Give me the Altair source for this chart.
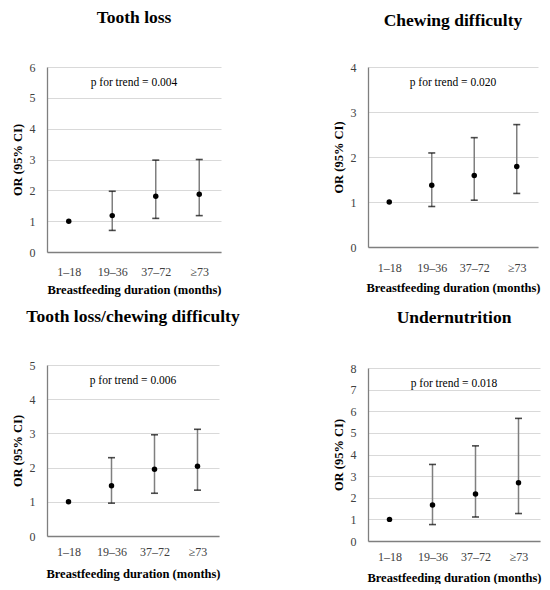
import altair as alt
import pandas as pd

categories = ["1–18", "19–36", "37–72", "≥73"]

titles = ["Tooth loss", "Chewing difficulty", "Tooth loss/chewing difficulty", "Undernutrition"]
p_texts = ["p for trend = 0.004", "p for trend = 0.020", "p for trend = 0.006", "p for trend = 0.018"]
y_max = [6, 4, 5, 8]

or_tooth = [1.0, 1.18, 1.81, 1.87]
lo_tooth = [None, 0.70, 1.09, 1.18]
hi_tooth = [None, 1.97, 2.98, 3.00]

or_chew = [1.0, 1.37, 1.59, 1.79]
lo_chew = [None, 0.90, 1.04, 1.19]
hi_chew = [None, 2.09, 2.43, 2.72]

or_both = [1.0, 1.47, 1.95, 2.04]
lo_both = [None, 0.96, 1.25, 1.34]
hi_both = [None, 2.29, 2.96, 3.12]

or_under = [1.0, 1.66, 2.17, 2.69]
lo_under = [None, 0.76, 1.11, 1.27]
hi_under = [None, 3.54, 4.40, 5.67]

FONT = "Liberation Serif"


def panel(title, ptext, ors, los, his, ymax, w, h, toff, lpad, tpad):
    df = pd.DataFrame({"cat": categories, "or": ors, "lo": los, "hi": his})
    x = alt.X("cat:O", sort=categories,
              scale=alt.Scale(type="point", padding=0.5),
              axis=alt.Axis(title="Breastfeeding duration (months)", labelAngle=0,
                            ticks=False, grid=False, domainColor="#7f7f7f",
                            domainWidth=1.3, labelPadding=lpad, titlePadding=tpad))
    yscale = alt.Scale(domain=[0, ymax], nice=False)
    yaxis = alt.Axis(title="OR (95% CI)", values=list(range(0, ymax + 1)),
                     labelOverlap=False,
                     ticks=False, grid=True, gridColor="#d9d9d9", domainColor="#7f7f7f",
                     domainWidth=1.3, labelPadding=12, titlePadding=5)
    base = alt.Chart(df)
    ci = base.transform_filter("datum.lo != null")
    rule = ci.mark_rule(color="#7f7f7f", strokeWidth=1.5).encode(
        x=x, y=alt.Y("lo:Q", scale=yscale, axis=yaxis), y2="hi:Q")
    cap_lo = ci.mark_tick(color="#000000", size=7, thickness=1.6, orient="horizontal").encode(
        x=x, y=alt.Y("lo:Q", scale=yscale, axis=yaxis))
    cap_hi = ci.mark_tick(color="#000000", size=7, thickness=1.6, orient="horizontal").encode(
        x=x, y=alt.Y("hi:Q", scale=yscale, axis=yaxis))
    pts = base.mark_circle(color="#000000", size=30, opacity=1).encode(
        x=x, y=alt.Y("or:Q", scale=yscale, axis=yaxis))
    txt = alt.Chart(pd.DataFrame({"t": [ptext]})).mark_text(
        font=FONT, fontSize=11.5, color="#000000").encode(
        text="t:N", x=alt.value(w / 2), y=alt.value(16))
    return alt.layer(rule, cap_lo, cap_hi, pts, txt).properties(
        width=w, height=h,
        title=alt.TitleParams(title, font=FONT, fontSize=17.5, fontWeight="bold",
                              color="#000000", frame="group", anchor="middle",
                              offset=toff))


c1 = panel(titles[0], p_texts[0], or_tooth, lo_tooth, hi_tooth, y_max[0], 174, 185, 35, 14, 6)
c2 = panel(titles[1], p_texts[1], or_chew, lo_chew, hi_chew, y_max[1], 170, 180, 32, 15, 8)
c3 = panel(titles[2], p_texts[2], or_both, lo_both, hi_both, y_max[2], 172, 171, 34, 10, 10)
c4 = panel(titles[3], p_texts[3], or_under, lo_under, hi_under, y_max[3], 172, 173, 36, 10, 9)

chart = alt.hconcat(
    alt.vconcat(c1, c3, spacing=11),
    alt.vconcat(c2, c4, spacing=14),
    spacing=92,
).properties(
    padding={"left": 3, "top": 0, "right": 0, "bottom": 0}
).configure_view(stroke=None).configure_axis(
    labelFont=FONT, labelFontSize=12, labelColor="#404040",
    titleFont=FONT, titleFontSize=12.5, titleFontWeight="bold", titleColor="#000000",
)

chart.save("out.html", embed_options={"renderer": "svg", "actions": False})
